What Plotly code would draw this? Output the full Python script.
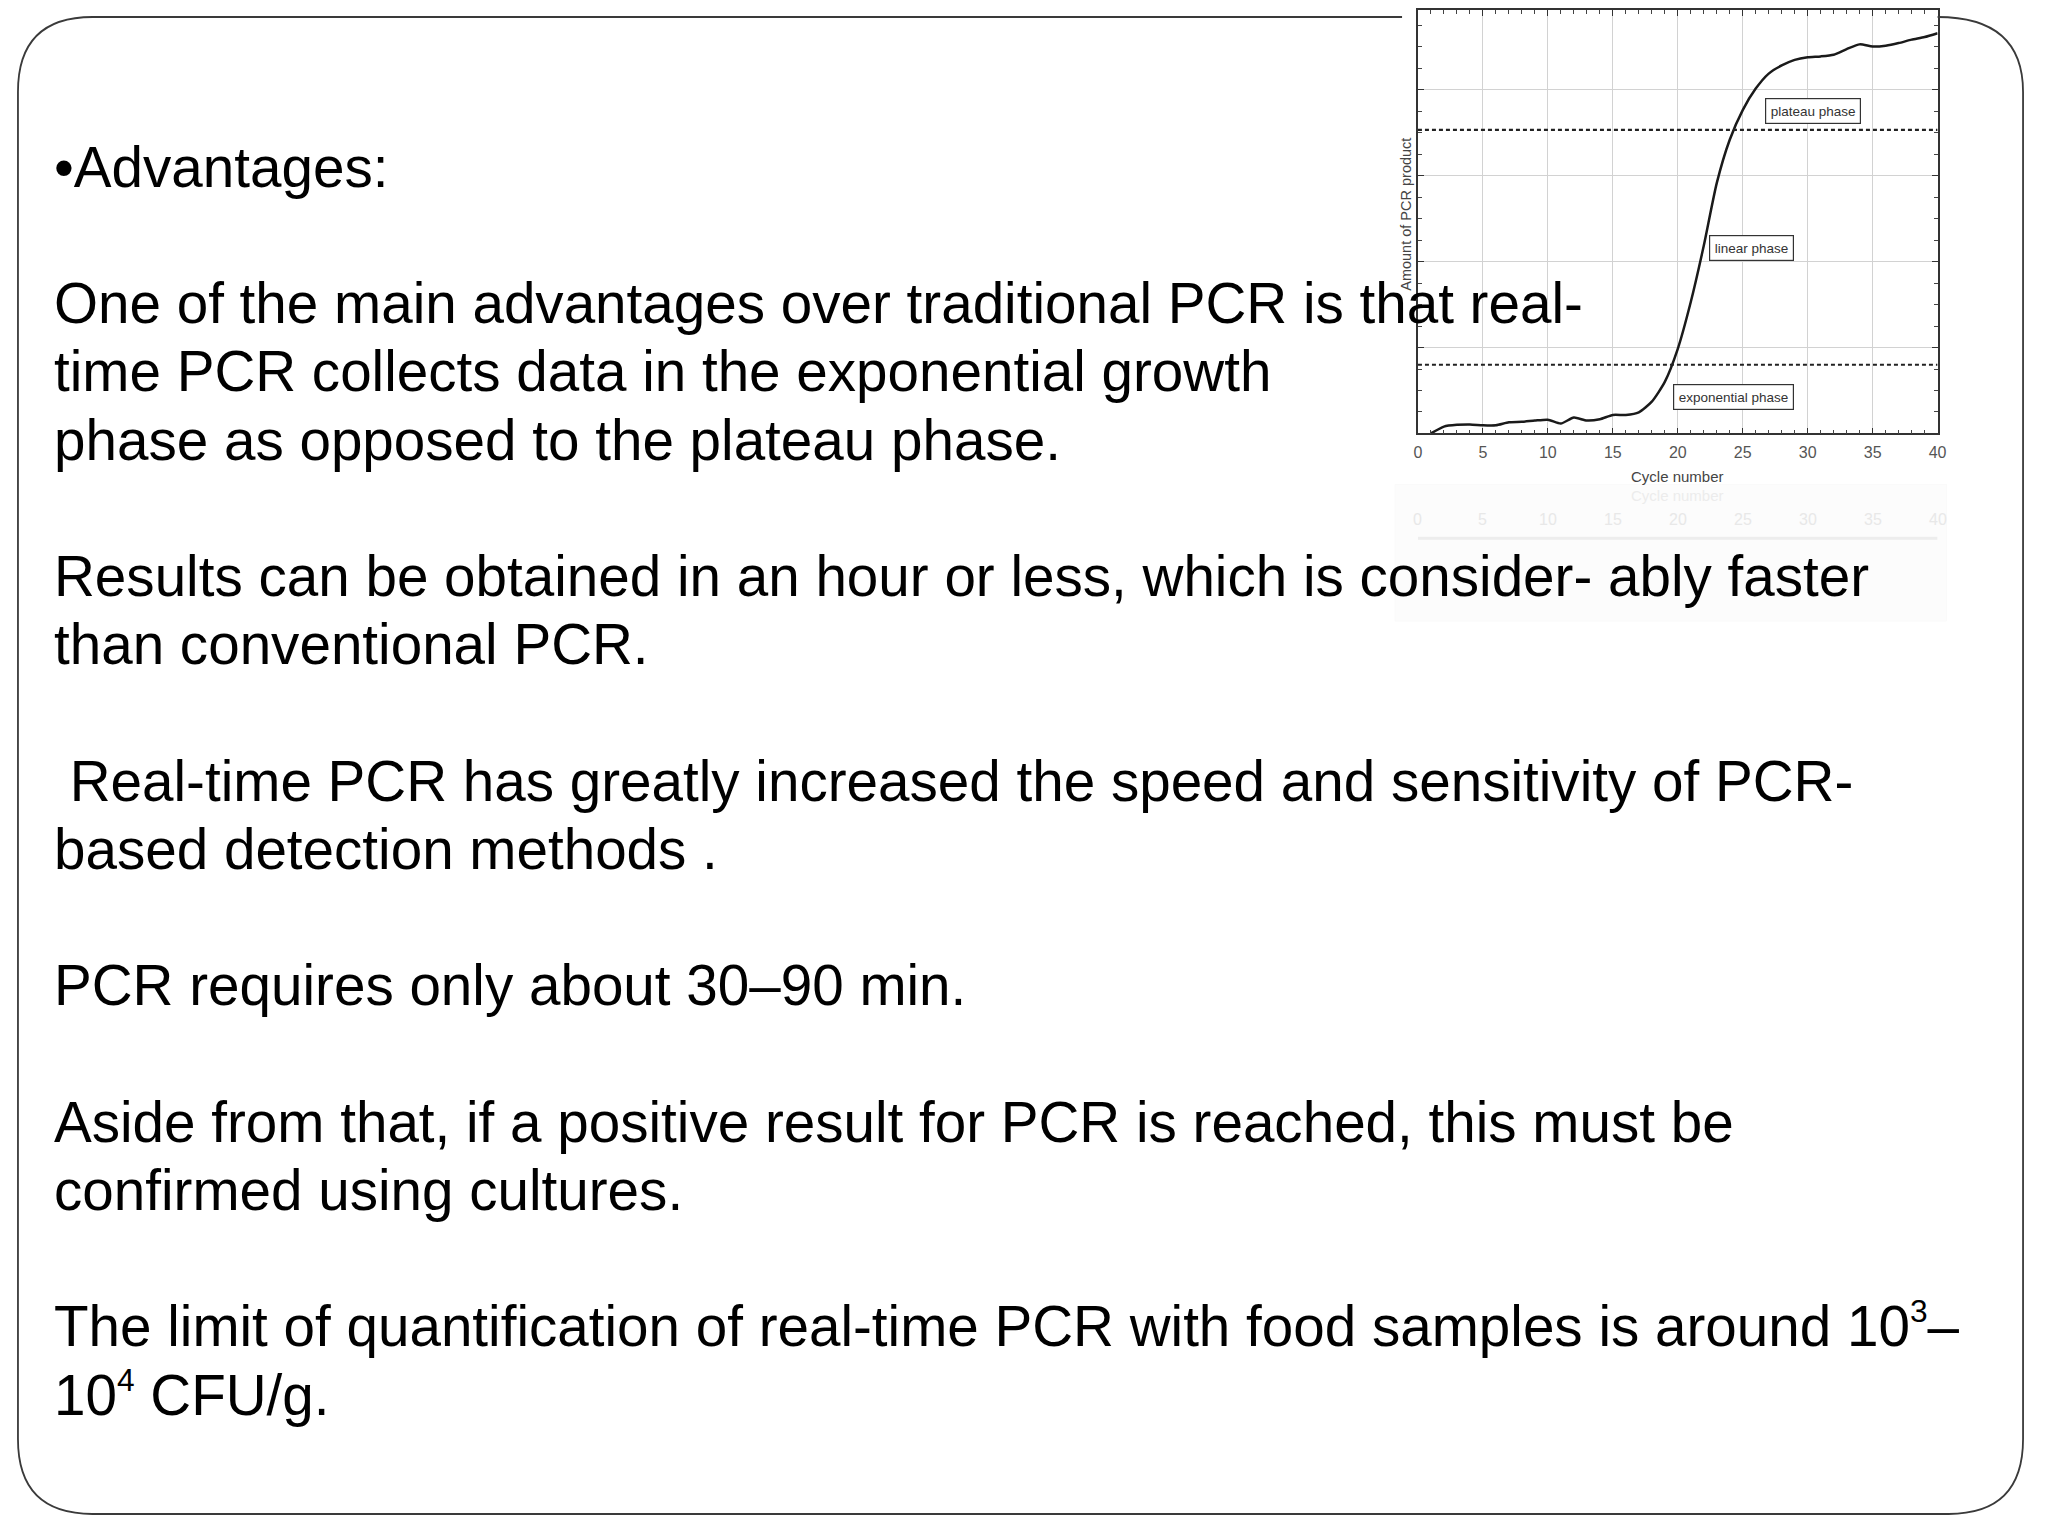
import plotly.graph_objects as go

# the html body keeps its default 8px margin, so the figure is made 16px
# smaller than the 2048x1536 window and page positions are shifted by OFF
PAGE_W, PAGE_H = 2048, 1536
OFF = 8
W, H = PAGE_W - 2 * OFF, PAGE_H - 2 * OFF

# slide text, one entry per text row (empty = blank row)
slide_lines = [
    "•Advantages:",
    "",
    "One of the main advantages over traditional PCR is that real-",
    "time PCR collects data in the exponential growth",
    "phase as opposed to the plateau phase.",
    "",
    "Results can be obtained in an hour or less, which is consider- ably faster",
    "than conventional PCR.",
    "",
    "\u00a0Real-time PCR has greatly increased the speed and sensitivity of PCR-",
    "based detection methods .",
    "",
    "PCR requires only about 30–90 min.",
    "",
    "Aside from that, if a positive result for PCR is reached, this must be",
    "confirmed using cultures.",
    "",
    "The limit of quantification of real-time PCR with food samples is around "
    "10<sup><span style='font-size:80%'>3</span></sup>–",
    "10<sup><span style='font-size:80%'>4</span></sup> CFU/g.",
]

# amplification curve
cycles = list(range(1, 41))
pcr_amount = [0.00, 0.16, 0.20, 0.21, 0.19, 0.19, 0.26, 0.27, 0.30, 0.32,
              0.23, 0.37, 0.30, 0.33, 0.43, 0.43, 0.49, 0.74, 1.20, 1.97,
              3.06, 4.37, 5.83, 6.84, 7.53, 8.03, 8.38, 8.57, 8.70, 8.76,
              8.78, 8.82, 8.95, 9.06, 9.01, 9.03, 9.09, 9.17, 9.23, 9.32]
phase_thresholds = [1.6, 7.07]
phase_names = ["plateau phase", "linear phase", "exponential phase"]
phase_x = [30.4, 25.7, 24.3]
phase_y = [7.5, 4.31, 0.86]
cycle_ticks = [0, 5, 10, 15, 20, 25, 30, 35, 40]
x_range = [0, 40]
y_range = [0, 10]

FONT = "Liberation Sans, Arial, sans-serif"


def px(x):
    return (x - OFF) / W


def py(y):
    return 1 - (y - OFF) / H


# inset box on the page; its top edge sits above the page offset, so the
# y range is trimmed by the part that falls off
box_l, box_r, box_t, box_b = 1423, 1946, 2, 432
top_vis = max(box_t, OFF)
y_top = y_range[1] - (top_vis - box_t) * (y_range[1] - y_range[0]) / (box_b - box_t)

fig = go.Figure()

fig.add_trace(go.Scatter(x=cycles, y=pcr_amount, mode="lines",
                         line=dict(color="#1a1a1a", width=2.5, shape="spline", smoothing=0.6),
                         hoverinfo="skip", cliponaxis=False))
for t in phase_thresholds:
    fig.add_trace(go.Scatter(x=x_range, y=[t, t], mode="lines",
                             line=dict(color="#222222", width=2.2, dash="4px,3px"),
                             hoverinfo="skip"))

annotations = []

# main slide text
fs = 56.6
for i, line in enumerate(slide_lines):
    if not line:
        continue
    baseline = 185 + 68.3 * i
    annotations.append(dict(
        text=line, xref="paper", yref="paper", x=px(48), y=py(baseline + 0.212 * fs + 2),
        xanchor="left", yanchor="bottom", showarrow=False, align="left",
        font=dict(family=FONT, size=fs, color="#000000")))

# phase labels inside the inset
for name, xv, yv in zip(phase_names, phase_x, phase_y):
    annotations.append(dict(
        text=name, xref="x", yref="y", x=xv, y=yv, showarrow=False,
        xanchor="center", yanchor="middle",
        font=dict(family=FONT, size=13.5, color="#333333"),
        bgcolor="white", bordercolor="#333333", borderwidth=1.2, borderpad=4.5))

# inset axis titles
annotations.append(dict(text="Cycle number", xref="x domain", yref="paper", x=0.5, y=py(475),
                        xanchor="center", yanchor="middle", showarrow=False,
                        font=dict(family=FONT, size=15, color="#444444")))
annotations.append(dict(text="Amount of PCR product", xref="paper", yref="paper",
                        x=px(1411), y=py(213), xanchor="center", yanchor="middle",
                        textangle=-90, showarrow=False,
                        font=dict(family=FONT, size=14.5, color="#444444")))

# faint reflection under the inset
annotations.append(dict(text="Cycle number", xref="x domain", yref="paper", x=0.5, y=py(494),
                        xanchor="center", yanchor="middle", showarrow=False,
                        font=dict(family=FONT, size=15, color="#ececec")))
for t in cycle_ticks:
    annotations.append(dict(text=str(t), xref="x", yref="paper", x=t, y=py(518),
                            xanchor="center", yanchor="middle", showarrow=False,
                            font=dict(family=FONT, size=16, color="#e8e8e8")))

# slide frame with the part under the inset left out
r = 75
L, T, R, B = 14, 15, 2032, 1514
frame = (f"M {px(1407)},{py(T)} L {px(L + r)},{py(T)} "
         f"Q {px(L)},{py(T)} {px(L)},{py(T + r)} "
         f"L {px(L)},{py(B - r)} Q {px(L)},{py(B)} {px(L + r)},{py(B)} "
         f"L {px(R - r)},{py(B)} Q {px(R)},{py(B)} {px(R)},{py(B - r)} "
         f"L {px(R)},{py(T + r)} Q {px(R)},{py(T)} {px(1946)},{py(T)}")

shapes = [
    dict(type="path", path=frame, xref="paper", yref="paper",
         line=dict(color="#3a3a3a", width=1.8)),
    dict(type="rect", xref="paper", yref="paper", x0=px(1400), x1=px(1955), y0=py(620), y1=py(483),
         fillcolor="rgba(0,0,0,0.012)", line=dict(color="rgba(0,0,0,0.02)", width=1), layer="below"),
    dict(type="line", xref="x", yref="paper", x0=x_range[0], x1=x_range[1], y0=py(537), y1=py(537),
         line=dict(color="#ededed", width=3), layer="below"),
]

fig.update_layout(
    width=W, height=H,
    margin=dict(l=0, r=0, t=0, b=0),
    paper_bgcolor="white", plot_bgcolor="white",
    showlegend=False,
    annotations=annotations,
    shapes=shapes,
    xaxis=dict(domain=[px(box_l), px(box_r)], range=x_range, tickvals=cycle_ticks,
               showgrid=True, gridcolor="#d2d2d2", gridwidth=1, zeroline=False,
               showline=True, linecolor="#333333", linewidth=1.5, mirror="allticks",
               ticks="inside", ticklen=6, tickcolor="#333333", ticklabelstandoff=4,
               tickfont=dict(family=FONT, size=16, color="#555555"),
               minor=dict(dtick=1, ticks="inside", ticklen=4, tickcolor="#444444", showgrid=False)),
    yaxis=dict(domain=[py(box_b), py(top_vis)], range=[y_range[0], y_top], dtick=2,
               showgrid=True, gridcolor="#d2d2d2", gridwidth=1, zeroline=False,
               showticklabels=False,
               showline=True, linecolor="#333333", linewidth=1.5, mirror="allticks",
               ticks="inside", ticklen=6, tickcolor="#333333",
               minor=dict(dtick=0.5, ticks="inside", ticklen=4, tickcolor="#444444", showgrid=False)),
)

fig.write_html("out.html")
